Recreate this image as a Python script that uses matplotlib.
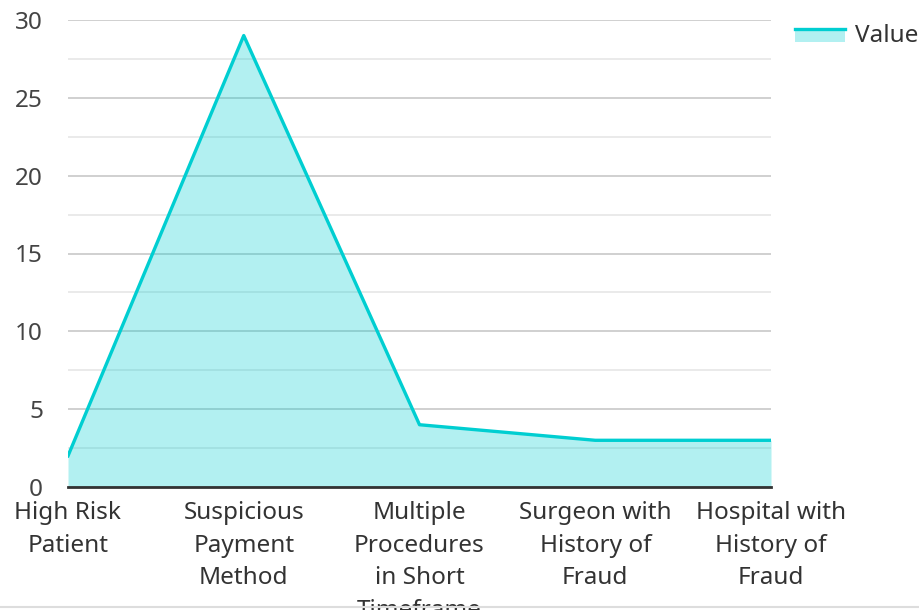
import numpy as np
import matplotlib.pyplot as plt
from matplotlib.legend_handler import HandlerBase
from matplotlib.patches import Rectangle
from matplotlib.lines import Line2D

plt.rcParams['font.family'] = ['Noto Sans', 'DejaVu Sans']

categories = ['High Risk\nPatient', 'Suspicious\nPayment\nMethod',
              'Multiple\nProcedures\nin Short\nTimeframe',
              'Surgeon with\nHistory of\nFraud', 'Hospital with\nHistory of\nFraud']
values = [2, 29, 4, 3, 3]

line_col = '#00CED1'
fill_alpha = 0.3
text_col = '#333333'


class AreaHandler(HandlerBase):
    # filled box with the line along its top edge
    def create_artists(self, legend, orig, xd, yd, w, h, fontsize, trans):
        r = Rectangle((xd, yd), w, h * 0.75, facecolor=line_col, alpha=fill_alpha,
                      edgecolor='none', transform=trans)
        l = Line2D([xd, xd + w], [yd + h * 0.75, yd + h * 0.75], color=line_col, lw=2.4, transform=trans)
        return [r, l]


fig = plt.figure(figsize=(9.19, 6.10), dpi=100)
ax = fig.add_axes([68 / 919, 1 - 487 / 610, (771 - 68) / 919, (487 - 20) / 610])

x = np.arange(len(values))
ax.fill_between(x, values, 0, color=line_col, alpha=fill_alpha, lw=0, zorder=2)
ax.plot(x, values, color=line_col, lw=2.4, zorder=3, label='Value')

ax.set_xlim(0, len(values) - 1)
ax.set_ylim(0, 30)
ax.set_yticks(np.arange(0, 31, 5))
ax.set_yticks(np.arange(2.5, 30, 5), minor=True)
ax.set_axisbelow(True)
ax.grid(axis='y', which='major', color='#c8c8c8', lw=1.2)
ax.grid(axis='y', which='minor', color='#e6e6e6', lw=1.2)
ax.set_xticks(x)
ax.set_xticklabels(categories, fontsize=17.5, color=text_col, linespacing=1.48, va='top')
ax.tick_params(axis='x', length=0, pad=10)
ax.tick_params(axis='y', which='both', length=0, pad=18, labelsize=17.5, labelcolor='#444444')
for s in ['top', 'right', 'left']:
    ax.spines[s].set_visible(False)
ax.spines['bottom'].set_color('#333333')
ax.spines['bottom'].set_linewidth(2)
ax.spines['bottom'].set_zorder(4)

ax.legend(handles=[Rectangle((0, 0), 1, 1)], labels=['Value'], handler_map={Rectangle: AreaHandler()},
          loc='upper left', bbox_to_anchor=(795 / 919, 1 - 24 / 610), bbox_transform=fig.transFigure,
          frameon=False, fontsize=17.5, handlelength=2.05, handleheight=0.7, handletextpad=0.4,
          labelcolor=text_col, borderaxespad=0, borderpad=0)

fig.add_artist(Line2D([0, 1], [3 / 610, 3 / 610], color='#dddddd', lw=1.5, transform=fig.transFigure))

fig.savefig('out.png', dpi=100)
